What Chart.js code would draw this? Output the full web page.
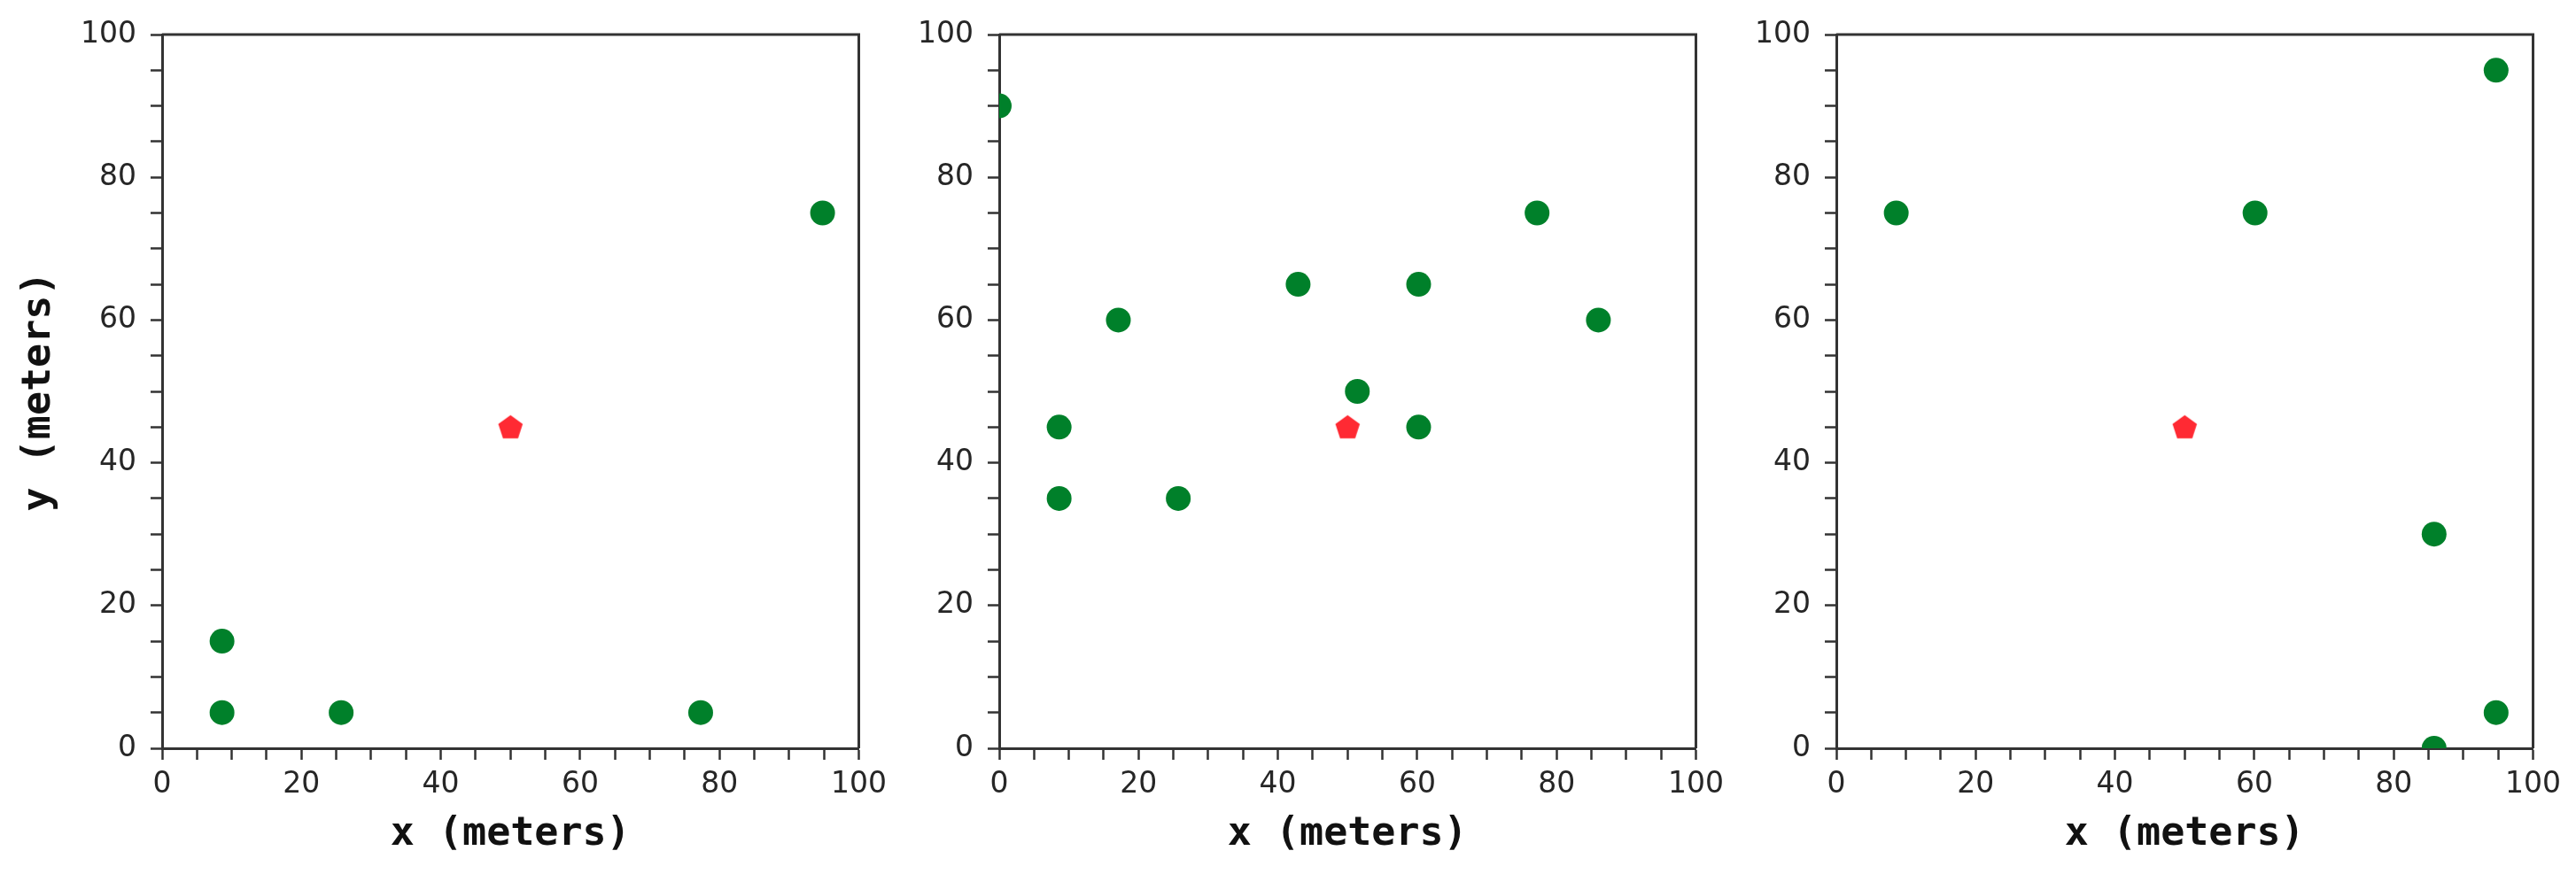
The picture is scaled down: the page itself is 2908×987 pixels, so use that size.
<!DOCTYPE html>
<html>
<head>
<meta charset="utf-8">
<script src="https://cdn.jsdelivr.net/npm/chart.js@4.4.1/dist/chart.umd.min.js"></script>
<style>
  html, body { margin: 0; padding: 0; background: #fff; }
  body { width: 2908px; height: 987px; position: relative; overflow: hidden; }
  .panel { position: absolute; top: 0; height: 987px; }
</style>
</head>
<body>
<div class="panel" id="wrap1" style="left:0px;width:1010px;"><canvas id="chart1"></canvas></div>
<div class="panel" id="wrap2" style="left:1010px;width:945px;"><canvas id="chart2"></canvas></div>
<div class="panel" id="wrap3" style="left:1955px;width:945px;"><canvas id="chart3"></canvas></div>
<script>
// tick labels shown on both axes (minor ticks every 5)
const tickLabels = [0, 20, 40, 60, 80, 100];

// panel 1 nodes
const p1X = [8.6, 8.6, 25.7, 77.3, 94.8];
const p1Y = [15, 5, 5, 5, 75];

// panel 2 nodes
const p2X = [0, 8.6, 8.6, 17.1, 25.7, 42.9, 51.4, 60.2, 60.2, 77.2, 86.0];
const p2Y = [90, 45, 35, 60, 35, 65, 50, 65, 45, 75, 60];

// panel 3 nodes
const p3X = [8.6, 60.1, 94.7, 85.8, 85.8, 94.7];
const p3Y = [75, 75, 95, 30, 0, 5];

// red marker (same in all panels)
const centerX = [50];
const centerY = [45];

const axisColor = '#333';
const greenColor = '#00802a';
const redColor = '#ff2a33';

// pentagon marker drawn on a small canvas
function makePentagon(size, color) {
    const c = document.createElement('canvas');
    c.width = size;
    c.height = size;
    const ctx = c.getContext('2d');
    const r = size / 2 - 1;
    ctx.fillStyle = color;
    ctx.beginPath();
    for (let i = 0; i < 5; i++) {
        const a = -Math.PI / 2 + i * 2 * Math.PI / 5;
        const px = size / 2 + r * Math.cos(a);
        const py = size / 2 + r * Math.sin(a) + 1;
        if (i === 0) ctx.moveTo(px, py); else ctx.lineTo(px, py);
    }
    ctx.closePath();
    ctx.fill();
    return c;
}
const pentagon = makePentagon(31, redColor);

// draws the top and right sides of the axes box
const framePlugin = {
    id: 'frame',
    afterDraw(chart) {
        const { ctx, chartArea } = chart;
        ctx.save();
        ctx.strokeStyle = axisColor;
        ctx.lineWidth = 3;
        ctx.beginPath();
        ctx.moveTo(chartArea.left, chartArea.top);
        ctx.lineTo(chartArea.right, chartArea.top);
        ctx.lineTo(chartArea.right, chartArea.bottom);
        ctx.stroke();
        ctx.restore();
    }
};

function toPoints(xs, ys) {
    return xs.map((x, i) => ({ x: x, y: ys[i] }));
}

function axis(showTitle, titleText, fitSize, horizontal) {
    return {
        type: 'linear',
        min: 0,
        max: 100,
        afterFit: function (scale) {
            if (horizontal) scale.height = fitSize; else scale.width = fitSize;
        },
        border: { color: axisColor, width: 3 },
        grid: {
            drawOnChartArea: false,
            drawTicks: true,
            tickLength: 13,
            tickWidth: 2.5,
            tickColor: axisColor
        },
        ticks: {
            stepSize: 5,
            autoSkip: false,
            maxRotation: 0,
            padding: horizontal ? 9 : 16,
            color: '#262626',
            font: { family: 'DejaVu Sans', size: 33 },
            callback: function (value) {
                return tickLabels.includes(value) ? String(value) : '';
            }
        },
        title: {
            display: showTitle,
            text: titleText,
            color: '#111',
            font: { family: 'DejaVu Sans Mono', size: 45, weight: 'bold' },
            padding: horizontal ? { top: 0, bottom: 18 } : { top: 17, bottom: 0 }
        }
    };
}

function makeChart(id, xs, ys, yAxisWidth, showYTitle) {
    return new Chart(document.getElementById(id).getContext('2d'), {
        type: 'scatter',
        data: {
            datasets: [
                {
                    label: 'nodes',
                    data: toPoints(xs, ys),
                    backgroundColor: greenColor,
                    borderWidth: 0,
                    pointRadius: 14,
                    pointHoverRadius: 14,
                    clip: 0
                },
                {
                    label: 'center',
                    data: toPoints(centerX, centerY),
                    pointStyle: pentagon,
                    backgroundColor: redColor,
                    borderWidth: 0,
                    pointRadius: 15,
                    clip: 0
                }
            ]
        },
        options: {
            responsive: true,
            maintainAspectRatio: false,
            animation: false,
            layout: { padding: { top: 39, right: 40, bottom: 0, left: 0 } },
            plugins: {
                legend: { display: false },
                tooltip: { enabled: false }
            },
            scales: {
                x: axis(true, 'x (meters)', 142, true),
                y: axis(showYTitle, 'y (meters)', yAxisWidth, false)
            }
        },
        plugins: [framePlugin]
    });
}

makeChart('chart1', p1X, p1Y, 183, true);
makeChart('chart2', p2X, p2Y, 118, false);
makeChart('chart3', p3X, p3Y, 118, false);
</script>
</body>
</html>
